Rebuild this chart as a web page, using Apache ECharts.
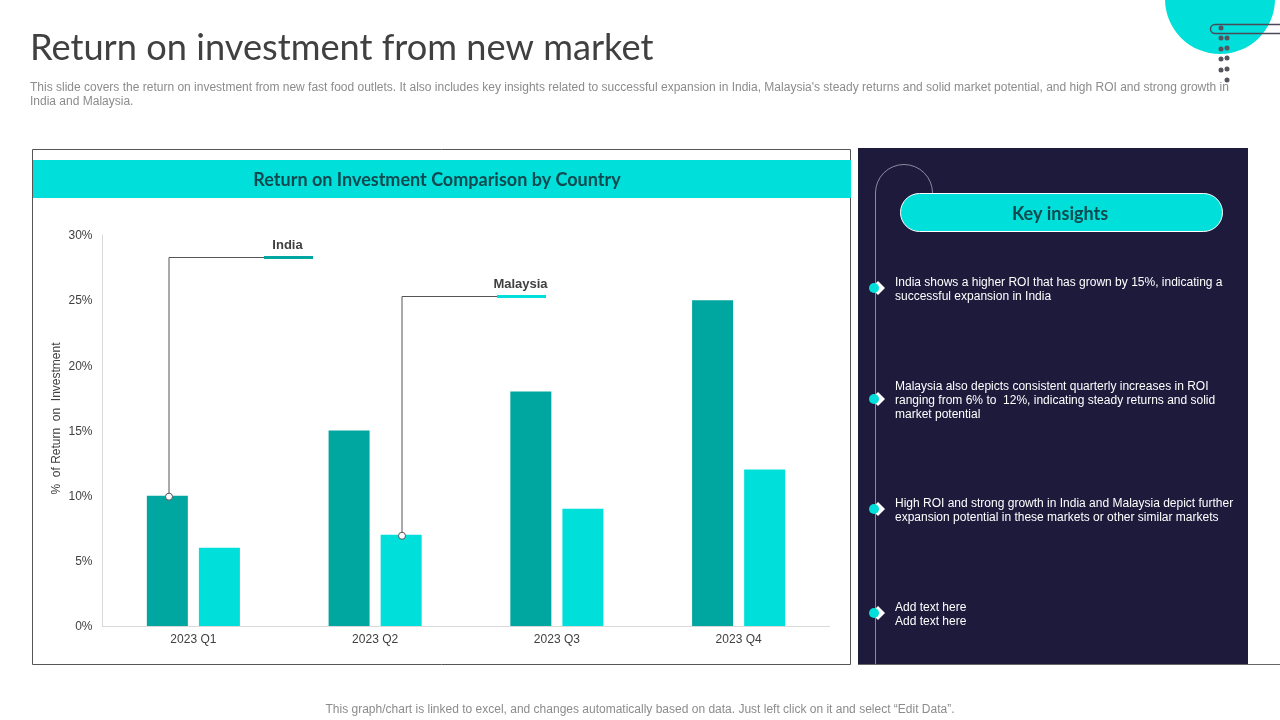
<!DOCTYPE html>
<html>
<head>
<meta charset="utf-8">
<title>Return on investment from new market</title>
<style>
html,body{margin:0;padding:0;background:#fff;}
#main{width:1280px;height:720px;}
</style>
</head>
<body>
<div id="main"></div>
<script src="https://cdn.jsdelivr.net/npm/echarts@6/dist/echarts.min.js"></script>
<script>
var quarters = ['2023 Q1', '2023 Q2', '2023 Q3', '2023 Q4'];
var india = [10, 15, 18, 25];
var malaysia = [6, 7, 9, 12];

var titleText = 'Return on investment from new market';
var subtitleLines = [
    'This slide covers the return on investment from new fast food outlets. It also includes key insights related to successful expansion in India, Malaysia\'s steady returns and solid market potential, and high ROI and strong growth in',
    'India and Malaysia.'
];
var chartTitle = 'Return on Investment Comparison by Country';
var insightTitle = 'Key insights';
var insights = [
    ['India shows a higher ROI that has grown by 15%, indicating a', 'successful expansion in India'],
    ['Malaysia also depicts consistent quarterly increases in ROI', 'ranging from 6% to  12%, indicating steady returns and solid', 'market potential'],
    ['High ROI and strong growth in India and Malaysia depict further', 'expansion potential in these markets or other similar markets'],
    ['Add text here', 'Add text here']
];
var insightY = [288, 399, 509, 613];
var footer = 'This graph/chart is linked to excel, and changes automatically based on data. Just left click on it and select “Edit Data”.';

var TEAL = '#00DFD9', DARK = '#00A6A0', NAVY = '#1E1A3C', GREY = '#8C8C8C';
var SANS = '"Liberation Sans", Arial, sans-serif';
var HEAD = 'Lato, "Open Sans", sans-serif';

var chart = echarts.init(document.getElementById('main'), null, {renderer: 'canvas'});

chart.setOption({
    animation: false,
    backgroundColor: '#fff',
    grid: {left: 102.5, right: 450.5, top: 235, bottom: 94},
    xAxis: {
        type: 'category',
        data: quarters,
        axisTick: {show: false},
        axisLine: {lineStyle: {color: '#D9D9D9'}},
        axisLabel: {color: '#404040', fontSize: 12, fontFamily: SANS, margin: 8}
    },
    yAxis: {
        type: 'value',
        min: 0,
        max: 30,
        interval: 5,
        name: '%  of Return  on  Investment',
        nameLocation: 'middle',
        nameGap: 40,
        nameMoveOverlap: false,
        nameTextStyle: {color: '#404040', fontSize: 12, fontFamily: SANS, padding: [0, 0, 0, 24]},
        axisLine: {show: true, lineStyle: {color: '#D9D9D9'}},
        axisTick: {show: false},
        splitLine: {show: false},
        axisLabel: {
            color: '#404040', fontSize: 12, fontFamily: SANS, margin: 10,
            formatter: '{a|{value}%}',
            rich: {a: {color: '#404040', fontSize: 12, fontFamily: SANS, padding: [2, 0, 0, 0]}}
        }
    },
    series: [
        {name: 'India', type: 'bar', data: india, barWidth: 41, barGap: '27%', itemStyle: {color: DARK}},
        {name: 'Malaysia', type: 'bar', data: malaysia, barWidth: 41, barGap: '27%', itemStyle: {color: TEAL}}
    ]
});

function txt(x, y, s, size, color, extra) {
    // +1: middle alignment sits a pixel high against the slide
    var style = {x: x, y: y + 1, text: s, fontSize: size, fill: color, fontFamily: SANS, verticalAlign: 'middle', align: 'left'};
    for (var k in extra) style[k] = extra[k];
    return {type: 'text', z: 20, silent: true, style: style};
}
function rect(x, y, w, h, fill, stroke, r, z, lw) {
    return {type: 'rect', z: z || 1, silent: true, shape: {x: x, y: y, width: w, height: h, r: r || 0},
        style: {fill: fill, stroke: stroke || null, lineWidth: lw || 1}};
}
function line(pts, color, width) {
    return {type: 'polyline', z: 15, silent: true, shape: {points: pts}, style: {stroke: color, lineWidth: width, fill: null}};
}
function circle(x, y, r, fill, stroke) {
    return {type: 'circle', z: 16, silent: true, shape: {cx: x, cy: y, r: r}, style: {fill: fill, stroke: stroke || null, lineWidth: 1}};
}

var g = [];

// header of the slide
g.push(circle(1220, -1, 55, TEAL));
g.push(rect(1210.5, 24.5, 78, 9, 'rgba(0,0,0,0)', '#4A4A5A', 4.5, 17, 1.4));
[[1221, 28], [1221, 38], [1227, 38], [1221, 49], [1227, 48], [1221, 59], [1227, 58], [1221, 70], [1227, 69], [1227, 80]].forEach(function (p) {
    g.push(circle(p[0], p[1], 2.5, '#55555F'));
});
g.push(txt(30, 47, titleText, 36.2, '#404040', {fontFamily: HEAD}));
subtitleLines.forEach(function (s, i) {
    g.push(txt(30, 87 + i * 14, s, 12, GREY));
});

// chart frame and band
g.push(rect(32.5, 149.5, 818, 515, '#fff', '#555555', 0, -1));
g.push(rect(33, 160, 818, 38, TEAL));
g.push(txt(437, 179, chartTitle, 18, '#0F4A50', {align: 'center', fontFamily: HEAD, fontWeight: 'bold'}));

// insights panel
g.push(rect(858, 148, 390, 516, NAVY));
g.push(line([[858, 664.5], [1280, 664.5]], '#666666', 1));
g.push({type: 'line', z: 3, silent: true, shape: {x1: 875.5, y1: 193, x2: 875.5, y2: 665}, style: {stroke: '#8C8AA0', lineWidth: 1}});
g.push({type: 'arc', z: 3, silent: true, shape: {cx: 904, cy: 193, r: 28.5, startAngle: Math.PI, endAngle: 2 * Math.PI, clockwise: true},
    style: {fill: null, stroke: '#8C8AA0', lineWidth: 1}});
g.push(rect(900.5, 193.5, 322, 38, TEAL, '#fff', 19, 5));
g.push(txt(1060, 213, insightTitle, 18, '#0F4A50', {align: 'center', fontFamily: HEAD, fontWeight: 'bold'}));
insights.forEach(function (lines, i) {
    var y = insightY[i];
    g.push({type: 'polygon', z: 6, silent: true, shape: {points: [[878, y - 7], [885, y], [878, y + 7], [871, y]]}, style: {fill: '#fff'}});
    g.push(circle(874, y, 5, TEAL));
    var y0 = [282, 386, 503, 607][i];
    lines.forEach(function (s, j) {
        g.push(txt(895, y0 + j * 14, s, 12, '#fff'));
    });
});

// callouts, anchored on the data through the axes
function callout(value, x, lineY, endX, capEnd, color, label) {
    var py = chart.convertToPixel({yAxisIndex: 0}, value) + 1;
    g.push(line([[x, py], [x, lineY], [endX, lineY]], '#555555', 1));
    g.push(line([[endX, lineY], [capEnd, lineY]], color, 3));
    g.push(circle(x, py, 3.5, '#fff', '#555555'));
    g.push(txt((endX + capEnd) / 2 - 1, lineY - 13.5, label, 13, '#404040', {align: 'center', fontWeight: 'bold'}));
}
callout(india[0], 169, 257.5, 264, 313, DARK, 'India');
callout(malaysia[1], 402, 296.5, 497, 546, TEAL, 'Malaysia');

g.push(txt(640, 709, footer, 12, GREY, {align: 'center'}));

chart.setOption({graphic: {elements: g}});
</script>
</body>
</html>
